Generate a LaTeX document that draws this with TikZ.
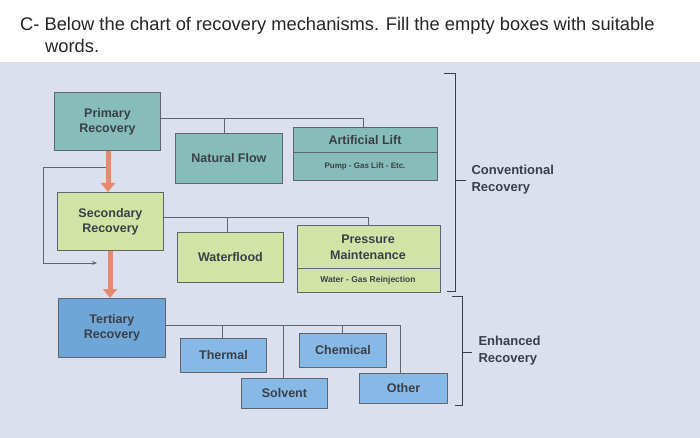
\documentclass[tikz,border=0pt]{standalone}
\usepackage{fontspec}
\setmainfont{Liberation Sans}
\usetikzlibrary{arrows.meta}
\definecolor{bg}{HTML}{DCDFEE}
\definecolor{prim}{HTML}{86BDB8}
\definecolor{sec}{HTML}{D3E3A6}
\definecolor{ter}{HTML}{6FA6D8}
\definecolor{terc}{HTML}{86B9E6}
\definecolor{orng}{HTML}{E58A6C}
\definecolor{txt}{HTML}{3A3F48}
\tikzset{
 box/.style={draw=txt!80,line width=0.9pt,anchor=north west,inner sep=0pt,font=\bfseries\fontsize{12.5}{15}\selectfont,text=txt,align=center},
 conn/.style={draw=txt!80,line width=0.7pt},
 big/.style={draw=orng,line width=5pt,-{Triangle[length=9pt,width=14pt]}},
 brk/.style={draw=txt,line width=0.9pt},
 lbl/.style={font=\bfseries\fontsize{13}{17}\selectfont,text=txt,align=left,anchor=west}
}
\begin{document}
\begin{tikzpicture}[x=1pt,y=-1pt]
\fill[white] (0,0) rectangle (700,438);
\fill[bg] (0,62) rectangle (700,438);
\useasboundingbox (0,0) rectangle (700,438);
\node[anchor=west,font=\fontsize{18.3}{21}\selectfont,text=black!85,inner sep=0pt] (t1) at (20,26) {C- Below the chart of recovery mechanisms. Fill the empty boxes with suitable};
\node[anchor=west,font=\fontsize{18.3}{21}\selectfont,text=black!85,inner sep=0pt] (t2) at (45,46) {words.};
% boxes
\node[box,fill=prim,minimum width=106pt,minimum height=58pt] (pr) at (54,92) {Primary\\Recovery};
\node[box,fill=prim,minimum width=107pt,minimum height=50pt] (nf) at (175,133) {Natural Flow};
\node[box,fill=prim,minimum width=144pt,minimum height=53pt] (al) at (293,127) {};
\node[font=\bfseries\fontsize{12.5}{15}\selectfont,text=txt] (alt) at (365,140) {Artificial Lift};
\node[font=\bfseries\fontsize{8}{9}\selectfont,text=txt] (als) at (365,166) {Pump - Gas Lift - Etc.};
\draw[conn] (293,152) -- (437,152);
\node[box,fill=sec,minimum width=106pt,minimum height=58pt] (se) at (57,192) {Secondary\\Recovery};
\node[box,fill=sec,minimum width=106pt,minimum height=50pt] (wf) at (177,232) {Waterflood};
\node[box,fill=sec,minimum width=143pt,minimum height=67pt] (pm) at (297,225) {};
\node[font=\bfseries\fontsize{12.5}{16}\selectfont,text=txt,align=center] (pmt) at (368,247) {Pressure\\Maintenance};
\node[font=\bfseries\fontsize{8.5}{9}\selectfont,text=txt] (pms) at (368,280) {Water - Gas Reinjection};
\draw[conn] (297,268) -- (440,268);
\node[box,fill=ter,minimum width=107pt,minimum height=59pt] (te) at (58,298) {Tertiary\\Recovery};
\node[box,fill=terc,minimum width=86pt,minimum height=34pt] (th) at (180,338) {Thermal};
\node[box,fill=terc,minimum width=87pt,minimum height=34pt] (ch) at (299,333) {Chemical};
\node[box,fill=terc,minimum width=86pt,minimum height=30pt] (so) at (241,378) {Solvent};
\node[box,fill=terc,minimum width=88pt,minimum height=30pt] (ot) at (359,373) {Other};
% connectors
\draw[conn] (pr.east |- 0,118) -- (363,118) -- (al.north -| 363,0);
\draw[conn] (224,118) -- (nf.north -| 224,0);
\draw[conn] (se.east |- 0,217) -- (368,217) -- (pm.north -| 368,0);
\draw[conn] (227,217) -- (wf.north -| 227,0);
\draw[conn] (te.east |- 0,325) -- (400,325) -- (ot.north -| 400,0);
\draw[conn] (222,325) -- (th.north -| 222,0);
\draw[conn] (283,325) -- (so.north -| 283,0);
\draw[conn] (342,325) -- (ch.north -| 342,0);
\coordinate (fb1) at (108,167);
\coordinate (fb2) at (97,263);
\draw[conn,-{Stealth[length=5pt]}] (fb1) -- (43,167) -- (43,263) -- (fb2);
\draw[big] (pr.south -| 108,0) -- (se.north -| 108,0);
\draw[big] (se.south -| 110,0) -- (te.north -| 110,0);
% brackets
\draw[brk] (444,73) -- (455,73) -- (455,291) -- (447,291);
\draw[brk] (455,180) -- (466,180);
\draw[brk] (452,296) -- (462,296) -- (462,405) -- (455,405);
\draw[brk] (462,352) -- (472,352);
\node[lbl] (cv) at (468,180) {Conventional\\Recovery};
\node[lbl] (en) at (475,351) {Enhanced\\Recovery};
\end{tikzpicture}
\end{document}
